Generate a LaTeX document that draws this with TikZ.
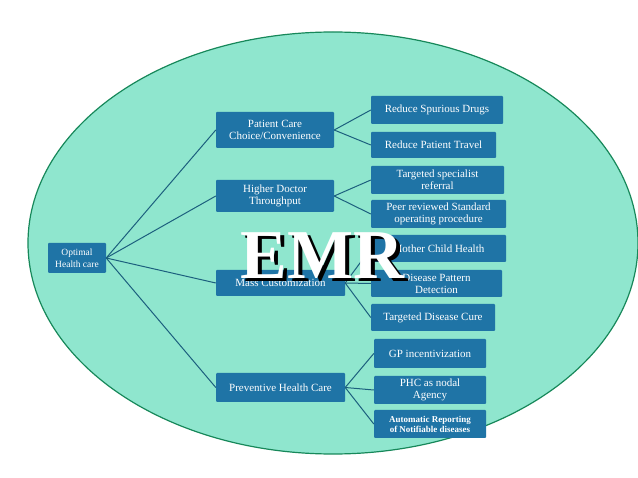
\documentclass[tikz,border=0pt]{standalone}
\usepackage{fontspec}
\setmainfont{Liberation Serif}
\definecolor{fillg}{HTML}{8FE6CE}
\definecolor{edgeg}{HTML}{17885A}
\definecolor{boxb}{HTML}{1F74A6}
\definecolor{linec}{HTML}{1C5F7E}
\begin{document}
\begin{tikzpicture}[x=1pt,y=-1pt,
  bx/.style={fill=boxb,text=white,font=\fontsize{11}{12}\selectfont,align=center,inner sep=0pt,rounded corners=1pt},
  cn/.style={draw=linec,line width=1pt}]
\useasboundingbox (0,0) rectangle (638,478);
\clip (0,0) rectangle (638,478);
\fill[white] (0,0) rectangle (638,478);
\draw[edgeg,fill=fillg,line width=1.2pt] (333,243) ellipse [x radius=305,y radius=211];
\newcommand\bxat[6]{\node[bx,minimum width=#4-#2,minimum height=#5-#3] (#1) at ({(#2+#4)/2},{(#3+#5)/2}) {#6};}
\bxat{root}{48}{243}{106}{273}{\fontsize{9.5}{10.5}\selectfont Optimal\\\fontsize{9.5}{10.5}\selectfont Health care}
\bxat{a}{216}{112}{334}{148}{Patient Care\\Choice/Convenience}
\bxat{b}{216}{180}{334}{212}{Higher Doctor\\Throughput}
\bxat{c}{216}{270}{345}{296}{Mass Customization}
\bxat{d}{216}{373}{345}{402}{Preventive Health Care}
\bxat{a1}{371}{96}{503}{124}{Reduce Spurious Drugs}
\bxat{a2}{371}{132}{496}{158}{Reduce Patient Travel}
\bxat{b1}{371}{166}{504}{194}{Targeted specialist\\referral}
\bxat{b2}{371}{200}{506}{228}{Peer reviewed Standard\\operating procedure}
\bxat{c1}{371}{235}{506}{262}{Mother Child Health}
\bxat{c2}{371}{270}{502}{297}{Disease Pattern\\Detection}
\bxat{c3}{371}{304}{495}{331}{Targeted Disease Cure}
\bxat{d1}{374}{339}{486}{368}{GP incentivization}
\bxat{d2}{374}{376}{486}{404}{PHC as nodal\\Agency}
\node[bx,minimum width=112,minimum height=28,font=\bfseries\fontsize{9}{10}\selectfont] (d3) at (430,424) {Automatic Reporting\\of Notifiable diseases};
\foreach \t in {a,b,c,d} \draw[cn] (root.east) -- (\t.west);
\foreach \t in {a1,a2} \draw[cn] (a.east) -- (\t.west);
\foreach \t in {b1,b2} \draw[cn] (b.east) -- (\t.west);
\foreach \t in {c1,c2,c3} \draw[cn] (c.east) -- (\t.west);
\foreach \t in {d1,d2,d3} \draw[cn] (d.east) -- (\t.west);
\node[font=\bfseries\fontsize{70}{70}\selectfont,text=black] (emrs) at (326,259) {EMR};
\node[font=\bfseries\fontsize{70}{70}\selectfont,text=white] (emr) at (322,256) {EMR};
\end{tikzpicture}
\end{document}
